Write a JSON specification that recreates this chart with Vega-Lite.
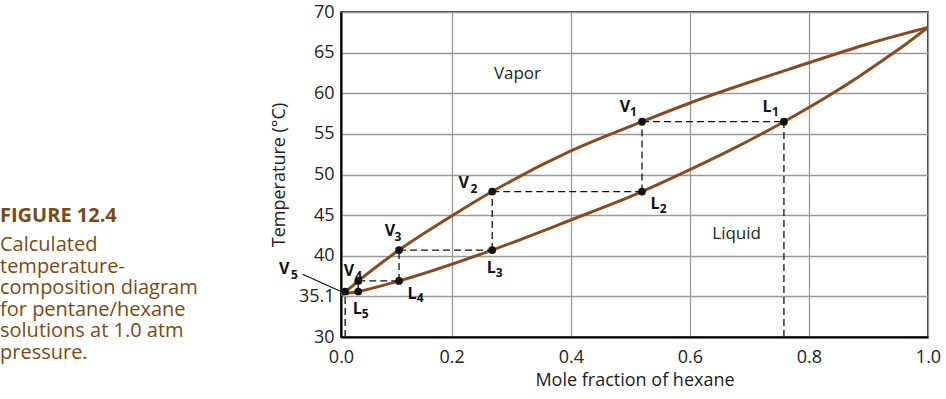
{
  "$schema": "https://vega.github.io/schema/vega-lite/v6.json",
  "padding": {"left": 0, "top": 2, "right": 5, "bottom": 5},
  "spacing": 20,
  "datasets": {
    "curves": [
      {"curve": "liquid", "x": 0.0, "T": 35.1},
      {"curve": "liquid", "x": 0.043, "T": 35.6},
      {"curve": "liquid", "x": 0.1115, "T": 36.9},
      {"curve": "liquid", "x": 0.268, "T": 40.7},
      {"curve": "liquid", "x": 0.4, "T": 44.4},
      {"curve": "liquid", "x": 0.5196, "T": 47.9},
      {"curve": "liquid", "x": 0.6, "T": 50.6},
      {"curve": "liquid", "x": 0.668, "T": 53.0},
      {"curve": "liquid", "x": 0.758, "T": 56.5},
      {"curve": "liquid", "x": 0.84, "T": 60.0},
      {"curve": "liquid", "x": 0.883, "T": 62.0},
      {"curve": "liquid", "x": 0.923, "T": 64.0},
      {"curve": "liquid", "x": 0.962, "T": 66.0},
      {"curve": "liquid", "x": 1.0, "T": 68.1},
      {"curve": "vapor", "x": 0.0, "T": 35.1},
      {"curve": "vapor", "x": 0.021, "T": 35.6},
      {"curve": "vapor", "x": 0.043, "T": 36.9},
      {"curve": "vapor", "x": 0.1115, "T": 40.7},
      {"curve": "vapor", "x": 0.2, "T": 44.9},
      {"curve": "vapor", "x": 0.268, "T": 47.9},
      {"curve": "vapor", "x": 0.4, "T": 52.9},
      {"curve": "vapor", "x": 0.5196, "T": 56.5},
      {"curve": "vapor", "x": 0.6, "T": 58.8},
      {"curve": "vapor", "x": 0.8, "T": 63.75},
      {"curve": "vapor", "x": 0.9, "T": 66.1},
      {"curve": "vapor", "x": 1.0, "T": 68.1}
    ],
    "points": [
      {"label": "V1", "letter": "V", "sub": "1", "x": 0.5196, "T": 56.5},
      {"label": "L1", "letter": "L", "sub": "1", "x": 0.758, "T": 56.5},
      {"label": "V2", "letter": "V", "sub": "2", "x": 0.268, "T": 47.9},
      {"label": "L2", "letter": "L", "sub": "2", "x": 0.5196, "T": 47.9},
      {"label": "V3", "letter": "V", "sub": "3", "x": 0.1115, "T": 40.7},
      {"label": "L3", "letter": "L", "sub": "3", "x": 0.268, "T": 40.7},
      {"label": "V4", "letter": "V", "sub": "4", "x": 0.043, "T": 36.9},
      {"label": "L4", "letter": "L", "sub": "4", "x": 0.1115, "T": 36.9},
      {"label": "V5", "letter": "V", "sub": "5", "x": 0.021, "T": 35.6},
      {"label": "L5", "letter": "L", "sub": "5", "x": 0.043, "T": 35.6}
    ],
    "ties": [
      {"x1": 0.5196, "T1": 56.5, "x2": 0.758, "T2": 56.5},
      {"x1": 0.268, "T1": 47.9, "x2": 0.5196, "T2": 47.9},
      {"x1": 0.1115, "T1": 40.7, "x2": 0.268, "T2": 40.7},
      {"x1": 0.043, "T1": 36.9, "x2": 0.1115, "T2": 36.9},
      {"x1": 0.758, "T1": 30, "x2": 0.758, "T2": 56.5},
      {"x1": 0.5196, "T1": 47.9, "x2": 0.5196, "T2": 56.5},
      {"x1": 0.268, "T1": 40.7, "x2": 0.268, "T2": 47.9},
      {"x1": 0.1115, "T1": 36.9, "x2": 0.1115, "T2": 40.7},
      {"x1": 0.043, "T1": 35.6, "x2": 0.043, "T2": 36.9},
      {"x1": 0.021, "T1": 30, "x2": 0.021, "T2": 35.6}
    ],
    "leader": [
      {"x1": -0.0505, "T1": 37.72, "x2": 0.012, "T2": 35.66}
    ],
    "regions": [
      {"name": "Vapor", "x": 0.3104, "T": 62.37},
      {"name": "Liquid", "x": 0.6785, "T": 42.68}
    ]
  },
  "hconcat": [
    {
      "width": 249,
      "height": 190,
      "view": {"stroke": null},
      "data": {"values": [{"a": 1}]},
      "mark": {"type": "point", "opacity": 0},
      "encoding": {},
      "title": {
        "text": "FIGURE 12.4",
        "subtitle": ["Calculated", "temperature-", "composition diagram", "for pentane/hexane", "solutions at 1.0 atm", "pressure."],
        "orient": "bottom",
        "anchor": "start",
        "offset": 4,
        "font": "Open Sans",
        "fontSize": 20,
        "fontWeight": "bold",
        "color": "#7B4A14",
        "subtitleFont": "Open Sans",
        "subtitleFontSize": 20,
        "subtitleFontWeight": "normal",
        "subtitleColor": "#7B4A14",
        "subtitleLineHeight": 21.6,
        "subtitlePadding": 9
      }
    },
    {
      "width": 587,
      "height": 325,
      "view": {"stroke": "#000", "strokeWidth": 1.5},
      "layer": [
        {
          "data": {"name": "curves"},
          "mark": {"type": "line", "color": "#8B4A1E", "strokeWidth": 3, "interpolate": "monotone", "clip": true},
          "encoding": {
            "x": {
              "field": "x", "type": "quantitative",
              "scale": {"domain": [0.014, 1], "nice": false, "zero": false},
              "axis": {
                "title": "Mole fraction of hexane",
                "values": [0.014, 0.2, 0.4, 0.6, 0.8, 1.0],
                "labelExpr": "datum.value < 0.1 ? '0.0' : format(datum.value, '.1f')",
                "labelFlush": false,
                "labelPadding": 11,
                "titlePadding": 5
              }
            },
            "y": {
              "field": "T", "type": "quantitative",
              "scale": {"domain": [30, 70], "nice": false, "zero": false},
              "axis": {
                "title": "Temperature (°C)",
                "values": [30, 35, 40, 45, 50, 55, 60, 65, 70],
                "labelExpr": "datum.value == 35 ? '35.1' : datum.label",
                "labelFlush": false,
                "labelPadding": 7,
                "titlePadding": 10
              }
            },
            "detail": {"field": "curve"}
          }
        },
        {
          "data": {"name": "ties"},
          "mark": {"type": "rule", "color": "#111", "strokeWidth": 1.3, "strokeDash": [7, 4]},
          "encoding": {
            "x": {"field": "x1", "type": "quantitative"},
            "y": {"field": "T1", "type": "quantitative"},
            "x2": {"field": "x2"},
            "y2": {"field": "T2"}
          }
        },
        {
          "data": {"name": "leader"},
          "mark": {"type": "rule", "color": "#111", "strokeWidth": 1.2},
          "encoding": {
            "x": {"field": "x1", "type": "quantitative"},
            "y": {"field": "T1", "type": "quantitative"},
            "x2": {"field": "x2"},
            "y2": {"field": "T2"}
          }
        },
        {
          "data": {"name": "points"},
          "mark": {"type": "circle", "size": 60, "color": "#111", "opacity": 1},
          "encoding": {
            "x": {"field": "x", "type": "quantitative"},
            "y": {"field": "T", "type": "quantitative"}
          }
        },
        {
          "data": {"name": "regions"},
          "mark": {"type": "text", "font": "Open Sans", "fontSize": 17, "color": "#222", "align": "center", "baseline": "middle"},
          "encoding": {
            "x": {"field": "x", "type": "quantitative"},
            "y": {"field": "T", "type": "quantitative"},
            "text": {"field": "name"}
          }
        },
        {
          "data": {"name": "points"},
          "transform": [{"filter": {"field": "label", "oneOf": ["V1", "L1"]}}],
          "mark": {"type": "text", "font": "Open Sans", "fontWeight": "bold", "fontSize": 16, "color": "#111", "align": "center", "baseline": "middle", "dx": -17, "dy": -14.5},
          "encoding": {"x": {"field": "x", "type": "quantitative"}, "y": {"field": "T", "type": "quantitative"}, "text": {"field": "letter"}}
        },
        {
          "data": {"name": "points"},
          "transform": [{"filter": {"field": "label", "oneOf": ["V1", "L1"]}}],
          "mark": {"type": "text", "font": "Open Sans", "fontWeight": "bold", "fontSize": 12, "color": "#111", "align": "center", "baseline": "middle", "dx": -8.5, "dy": -10},
          "encoding": {"x": {"field": "x", "type": "quantitative"}, "y": {"field": "T", "type": "quantitative"}, "text": {"field": "sub"}}
        },
        {
          "data": {"name": "points"},
          "transform": [{"filter": {"field": "label", "oneOf": ["V2"]}}],
          "mark": {"type": "text", "font": "Open Sans", "fontWeight": "bold", "fontSize": 16, "color": "#111", "align": "center", "baseline": "middle", "dx": -28.4, "dy": -8.6},
          "encoding": {"x": {"field": "x", "type": "quantitative"}, "y": {"field": "T", "type": "quantitative"}, "text": {"field": "letter"}}
        },
        {
          "data": {"name": "points"},
          "transform": [{"filter": {"field": "label", "oneOf": ["V2"]}}],
          "mark": {"type": "text", "font": "Open Sans", "fontWeight": "bold", "fontSize": 12, "color": "#111", "align": "center", "baseline": "middle", "dx": -18.2, "dy": -2.8},
          "encoding": {"x": {"field": "x", "type": "quantitative"}, "y": {"field": "T", "type": "quantitative"}, "text": {"field": "sub"}}
        },
        {
          "data": {"name": "points"},
          "transform": [{"filter": {"field": "label", "oneOf": ["L2", "L4"]}}],
          "mark": {"type": "text", "font": "Open Sans", "fontWeight": "bold", "fontSize": 16, "color": "#111", "align": "center", "baseline": "middle", "dx": 13, "dy": 12.6},
          "encoding": {"x": {"field": "x", "type": "quantitative"}, "y": {"field": "T", "type": "quantitative"}, "text": {"field": "letter"}}
        },
        {
          "data": {"name": "points"},
          "transform": [{"filter": {"field": "label", "oneOf": ["L2", "L4"]}}],
          "mark": {"type": "text", "font": "Open Sans", "fontWeight": "bold", "fontSize": 12, "color": "#111", "align": "center", "baseline": "middle", "dx": 21.2, "dy": 17.4},
          "encoding": {"x": {"field": "x", "type": "quantitative"}, "y": {"field": "T", "type": "quantitative"}, "text": {"field": "sub"}}
        },
        {
          "data": {"name": "points"},
          "transform": [{"filter": {"field": "label", "oneOf": ["L3", "L5"]}}],
          "mark": {"type": "text", "font": "Open Sans", "fontWeight": "bold", "fontSize": 16, "color": "#111", "align": "center", "baseline": "middle", "dx": -1, "dy": 17.5},
          "encoding": {"x": {"field": "x", "type": "quantitative"}, "y": {"field": "T", "type": "quantitative"}, "text": {"field": "letter"}}
        },
        {
          "data": {"name": "points"},
          "transform": [{"filter": {"field": "label", "oneOf": ["L3", "L5"]}}],
          "mark": {"type": "text", "font": "Open Sans", "fontWeight": "bold", "fontSize": 12, "color": "#111", "align": "center", "baseline": "middle", "dx": 7, "dy": 22.5},
          "encoding": {"x": {"field": "x", "type": "quantitative"}, "y": {"field": "T", "type": "quantitative"}, "text": {"field": "sub"}}
        },
        {
          "data": {"name": "points"},
          "transform": [{"filter": {"field": "label", "oneOf": ["V3"]}}],
          "mark": {"type": "text", "font": "Open Sans", "fontWeight": "bold", "fontSize": 16, "color": "#111", "align": "center", "baseline": "middle", "dx": -9, "dy": -19.3},
          "encoding": {"x": {"field": "x", "type": "quantitative"}, "y": {"field": "T", "type": "quantitative"}, "text": {"field": "letter"}}
        },
        {
          "data": {"name": "points"},
          "transform": [{"filter": {"field": "label", "oneOf": ["V3"]}}],
          "mark": {"type": "text", "font": "Open Sans", "fontWeight": "bold", "fontSize": 12, "color": "#111", "align": "center", "baseline": "middle", "dx": -1, "dy": -12.6},
          "encoding": {"x": {"field": "x", "type": "quantitative"}, "y": {"field": "T", "type": "quantitative"}, "text": {"field": "sub"}}
        },
        {
          "data": {"name": "points"},
          "transform": [{"filter": {"field": "label", "oneOf": ["V4"]}}],
          "mark": {"type": "text", "font": "Open Sans", "fontWeight": "bold", "fontSize": 16, "color": "#111", "align": "center", "baseline": "middle", "dx": -9.2, "dy": -9.5},
          "encoding": {"x": {"field": "x", "type": "quantitative"}, "y": {"field": "T", "type": "quantitative"}, "text": {"field": "letter"}}
        },
        {
          "data": {"name": "points"},
          "transform": [{"filter": {"field": "label", "oneOf": ["V4"]}}],
          "mark": {"type": "text", "font": "Open Sans", "fontWeight": "bold", "fontSize": 12, "color": "#111", "align": "center", "baseline": "middle", "dx": 0.3, "dy": -5},
          "encoding": {"x": {"field": "x", "type": "quantitative"}, "y": {"field": "T", "type": "quantitative"}, "text": {"field": "sub"}}
        },
        {
          "data": {"name": "points"},
          "transform": [{"filter": {"field": "label", "oneOf": ["V5"]}}],
          "mark": {"type": "text", "font": "Open Sans", "fontWeight": "bold", "fontSize": 16, "color": "#111", "align": "center", "baseline": "middle", "dx": -60.9, "dy": -22.4},
          "encoding": {"x": {"field": "x", "type": "quantitative"}, "y": {"field": "T", "type": "quantitative"}, "text": {"field": "letter"}}
        },
        {
          "data": {"name": "points"},
          "transform": [{"filter": {"field": "label", "oneOf": ["V5"]}}],
          "mark": {"type": "text", "font": "Open Sans", "fontWeight": "bold", "fontSize": 12, "color": "#111", "align": "center", "baseline": "middle", "dx": -50.7, "dy": -16.4},
          "encoding": {"x": {"field": "x", "type": "quantitative"}, "y": {"field": "T", "type": "quantitative"}, "text": {"field": "sub"}}
        }
      ]
    }
  ],
  "config": {
    "font": "Open Sans",
    "axis": {
      "labelFont": "Open Sans",
      "labelFontSize": 18,
      "labelColor": "#222",
      "titleFont": "Open Sans",
      "titleFontSize": 18,
      "titleFontWeight": "normal",
      "titleColor": "#222",
      "domainColor": "#000",
      "domainWidth": 2,
      "grid": true,
      "gridColor": "#999",
      "gridWidth": 1.3,
      "gridOpacity": 1,
      "ticks": false
    }
  }
}
